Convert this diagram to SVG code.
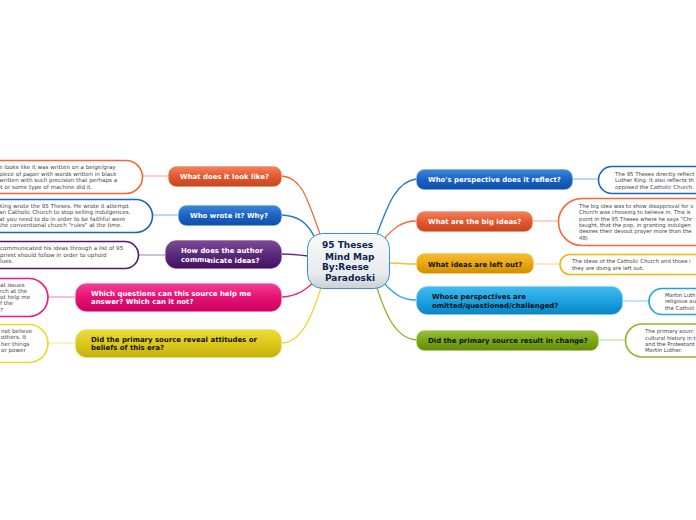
<svg xmlns="http://www.w3.org/2000/svg" width="696" height="520" viewBox="0 0 696 520">
<style>
text{font-family:"DejaVu Sans",Verdana,sans-serif}
.t{font-size:6.95px;font-weight:700;fill:#fff}
.k{fill:#111}
.d{font-size:5.6px;fill:#444}
.r{font-size:5.35px;fill:#444}
.b{fill:#fff;stroke-width:1.6}
.c{fill:none;stroke-width:1.3}
.l{fill:none;stroke-width:1.3;opacity:.45}
.tp{stroke-width:1;stroke-opacity:.5}
</style>
<defs>
<linearGradient id="gc" x1="0" y1="0" x2="0" y2="1"><stop offset="0" stop-color="#f8fbfc"/><stop offset=".75" stop-color="#e6eaec"/><stop offset="1" stop-color="#c9d0d3"/></linearGradient>
<linearGradient id="go" x1="0" y1="0" x2="0" y2="1"><stop offset="0" stop-color="#f2825c"/><stop offset=".5" stop-color="#e4582e"/><stop offset="1" stop-color="#c4451e"/></linearGradient>
<linearGradient id="gb" x1="0" y1="0" x2="0" y2="1"><stop offset="0" stop-color="#3c87dc"/><stop offset=".5" stop-color="#1a63c4"/><stop offset="1" stop-color="#0f4fa6"/></linearGradient>
<linearGradient id="gp" x1="0" y1="0" x2="0" y2="1"><stop offset="0" stop-color="#7d4a95"/><stop offset=".5" stop-color="#5c2a7c"/><stop offset="1" stop-color="#42105e"/></linearGradient>
<linearGradient id="gm" x1="0" y1="0" x2="0" y2="1"><stop offset="0" stop-color="#f23f93"/><stop offset=".5" stop-color="#e61273"/><stop offset="1" stop-color="#cc0060"/></linearGradient>
<linearGradient id="gy" x1="0" y1="0" x2="0" y2="1"><stop offset="0" stop-color="#ecdc3c"/><stop offset=".5" stop-color="#dcc81a"/><stop offset="1" stop-color="#c4b00c"/></linearGradient>
<linearGradient id="ga" x1="0" y1="0" x2="0" y2="1"><stop offset="0" stop-color="#f4bc34"/><stop offset=".5" stop-color="#eaa810"/><stop offset="1" stop-color="#cf8f06"/></linearGradient>
<linearGradient id="gs" x1="0" y1="0" x2="0" y2="1"><stop offset="0" stop-color="#44bcf0"/><stop offset=".5" stop-color="#1ea2e0"/><stop offset="1" stop-color="#0884c4"/></linearGradient>
<linearGradient id="gg" x1="0" y1="0" x2="0" y2="1"><stop offset="0" stop-color="#98c03a"/><stop offset=".5" stop-color="#7ca818"/><stop offset="1" stop-color="#628c06"/></linearGradient>
</defs>
<g id="connectors">
<path class="c" stroke="#f4673a" d="M282 176C302 178 307 198 320 234"/>
<path class="c" stroke="#2a76d2" d="M282 215C300 216 308 224 315 238"/>
<path class="c" stroke="#5c2a7c" d="M282 254C292 254 300 255 308 256"/>
<path class="c" stroke="#ec2a85" d="M282 297C298 296 305 290 314 282"/>
<path class="c" stroke="#e9d92e" d="M282 343C302 342 312 316 321 288"/>
<path class="c" stroke="#2a76d2" d="M416 179C395 182 387 208 377 234"/>
<path class="c" stroke="#f4673a" d="M416 221C400 221 392 230 383 240"/>
<path class="c" stroke="#f5bb35" d="M416 264C406 264 398 263 389 263"/>
<path class="c" stroke="#2aaae8" d="M416 300C402 300 394 294 384 283"/>
<path class="c" stroke="#8cb828" d="M416 340C396 338 386 316 377 288"/>
<path class="l" stroke="#f4673a" d="M142 176H168"/>
<path class="l" stroke="#2a76d2" d="M152 215H178"/>
<path class="l" stroke="#5c2a7c" d="M139 255H165"/>
<path class="l" stroke="#ec2a85" d="M48 297H75"/>
<path class="l" stroke="#e9d92e" d="M48 343H75"/>
<path class="l" stroke="#2a76d2" d="M573 179H599"/>
<path class="l" stroke="#f4673a" d="M533 221H559"/>
<path class="l" stroke="#f5bb35" d="M534 264H560"/>
<path class="l" stroke="#2aaae8" d="M623 301H649"/>
<path class="l" stroke="#8cb828" d="M599 340H626"/>
</g>
<g id="center"><rect x="307.500" y="233.500" width="82" height="55" rx="15" fill="url(#gc)" stroke="#3b8fc8" stroke-width="1"/>
<text font-size="9px" font-weight="700" fill="#0f2450"><tspan x="322" y="248">95 Theses</tspan><tspan x="325" y="259.500">Mind Map</tspan><tspan x="322" y="270">By:Reese</tspan><tspan x="325" y="281">Paradoski</tspan></text></g>
<g id="n1"><path class="b" stroke="#f4673a" d="M-5 160.500H126a16.500 16.500 0 0 1 0 33H-5z"/>
<text class="d"><tspan x="-1" y="169">e looks like it was written on a beige/gray</tspan><tspan x="-1" y="175.500">piece of paper with words written in black</tspan><tspan x="-1" y="182">written with such precision that perhaps a</tspan><tspan x="-1" y="188.500">it or some type of machine did it.</tspan></text>
<rect class="tp" x="168.500" y="166.500" width="113" height="20" rx="8" fill="url(#go)" stroke="#f4906e"/><text class="t" x="180" y="179">What does it look like?</text></g>
<g id="n2"><path class="b" stroke="#1a63c4" d="M-5 199.500H136a16.500 16.500 0 0 1 0 33H-5z"/>
<text class="d"><tspan x="-1" y="207.500">King wrote the 95 Theses. He wrote it attempt</tspan><tspan x="-1" y="214">an Catholic Church to stop selling indulgences.</tspan><tspan x="-1" y="220.500">at you need to do in order to be faithful were</tspan><tspan x="-1" y="227">the conventional church "rules" at the time.</tspan></text>
<rect class="tp" x="178.500" y="205.500" width="103" height="20" rx="8" fill="url(#gb)" stroke="#6ea4e4"/><text class="t" x="190" y="218">Who wrote it? Why?</text></g>
<g id="n3"><path class="b" stroke="#4d1a6e" d="M-5 241.500H125a13.500 13.500 0 0 1 0 27H-5z"/>
<text class="d"><tspan x="0" y="250">communicated his ideas through a list of 95</tspan><tspan x="0" y="257">priest should follow in order to uphold</tspan><tspan x="0" y="263">lues.</tspan></text>
<rect class="tp" x="165.500" y="240.500" width="116" height="28" rx="11" fill="url(#gp)" stroke="#8a5fa6"/><text class="t"><tspan x="181" y="253">How does the author</tspan><tspan x="181" y="262">commu</tspan><tspan x="208" y="262.500">nicate ideas?</tspan></text></g>
<g id="n4"><path class="b" stroke="#ec1b7a" d="M-5 278.500H29a18.500 18.500 0 0 1 0 38H-5z"/>
<text class="d"><tspan x="0" y="287">at issues</tspan><tspan x="0" y="293">rch at the</tspan><tspan x="0" y="299">ot help me</tspan><tspan x="0" y="305">f the</tspan><tspan x="0" y="312">?</tspan></text>
<rect class="tp" x="75.500" y="283.500" width="206" height="28" rx="11" fill="url(#gm)" stroke="#f474b0"/><text class="t"><tspan x="91" y="296">Which questions can this source help me</tspan><tspan x="91" y="304">answer? Which can it not?</tspan></text></g>
<g id="n5"><path class="b" stroke="#e9d92e" d="M-5 324.500H29a19 19 0 0 1 0 38H-5z"/>
<text class="d"><tspan x="1" y="332.500">not believe</tspan><tspan x="1" y="339">others. It</tspan><tspan x="1" y="345.500">her things</tspan><tspan x="1" y="352">or power</tspan></text>
<rect class="tp" x="75.500" y="329.500" width="206" height="28" rx="11" fill="url(#gy)" stroke="#efe37a"/><text class="t k"><tspan x="91" y="341.500">Did the primary source reveal</tspan><tspan x="210.500" y="342">attitudes or</tspan><tspan x="91" y="350">beliefs of this era?</tspan></text></g>
<g id="n6"><path class="b" stroke="#1a63c4" d="M701 166.500H612a13.500 13.500 0 0 0 0 27H701z"/>
<text class="r"><tspan x="615" y="175.500">The 95 Theses directly reflect</tspan><tspan x="615" y="182">Luther King. It also reflects th</tspan><tspan x="615" y="188.500">opposed the Catholic Church.</tspan></text>
<rect class="tp" x="416.500" y="169.500" width="156" height="20" rx="8" fill="url(#gb)" stroke="#6ea4e4"/><text class="t" x="428" y="182">Who's perspective does it reflect?</text></g>
<g id="n7"><path class="b" stroke="#f4673a" d="M701 198.500H582a23.500 23.500 0 0 0 0 47H701z"/>
<text class="r"><tspan x="579" y="207.500">The big idea was to show disapproval for v</tspan><tspan x="579" y="214">Church was choosing to believe in. This is</tspan><tspan x="579" y="220.500">point in the 95 Theses where he says "Chr</tspan><tspan x="579" y="227">taught, that the pop, in granting indulgen</tspan><tspan x="579" y="233">desires their devout prayer more than the</tspan><tspan x="579" y="240">48)</tspan></text>
<rect class="tp" x="416.500" y="211.500" width="116" height="20" rx="8" fill="url(#go)" stroke="#f4906e"/><text class="t" x="428" y="224">What are the big ideas?</text></g>
<g id="n8"><path class="b" stroke="#f5b50f" d="M701 254.500H570a10 10 0 0 0 0 20H701z"/>
<text class="r"><tspan x="572" y="263">The ideas of the Catholic Church and those i</tspan><tspan x="572" y="270">they are doing are left out.</tspan></text>
<rect class="tp" x="416.500" y="253.500" width="117" height="20" rx="8" fill="url(#ga)" stroke="#f7d05e"/><text class="t k" x="428" y="267">What ideas are left out?</text></g>
<g id="n9"><path class="b" stroke="#1ea2e0" d="M701 288.500H662a13 13 0 0 0 0 26H701z"/>
<text class="r"><tspan x="665" y="297">Martin Luth</tspan><tspan x="665" y="303">religious au</tspan><tspan x="665" y="310">the Catholi</tspan></text>
<rect class="tp" x="416.500" y="286.500" width="206" height="28" rx="11" fill="url(#gs)" stroke="#7ccdf2"/><text class="t k"><tspan x="432" y="299">Whose perspectives are</tspan><tspan x="432" y="308">omitted/questioned/challenged?</tspan></text></g>
<g id="n10"><path class="b" stroke="#8cb828" d="M701 324H642a16.500 16.500 0 0 0 0 33H701z"/>
<text class="r"><tspan x="645" y="333">The primary sourc</tspan><tspan x="645" y="339.500">cultural history in t</tspan><tspan x="645" y="345.500">and the Protestant</tspan><tspan x="645" y="352">Martin Luther.</tspan></text>
<rect class="tp" x="416.500" y="330.500" width="182" height="20" rx="8" fill="url(#gg)" stroke="#b4d468"/><text class="t k" x="428" y="343">Did the primary source result in change?</text></g>
</svg>
